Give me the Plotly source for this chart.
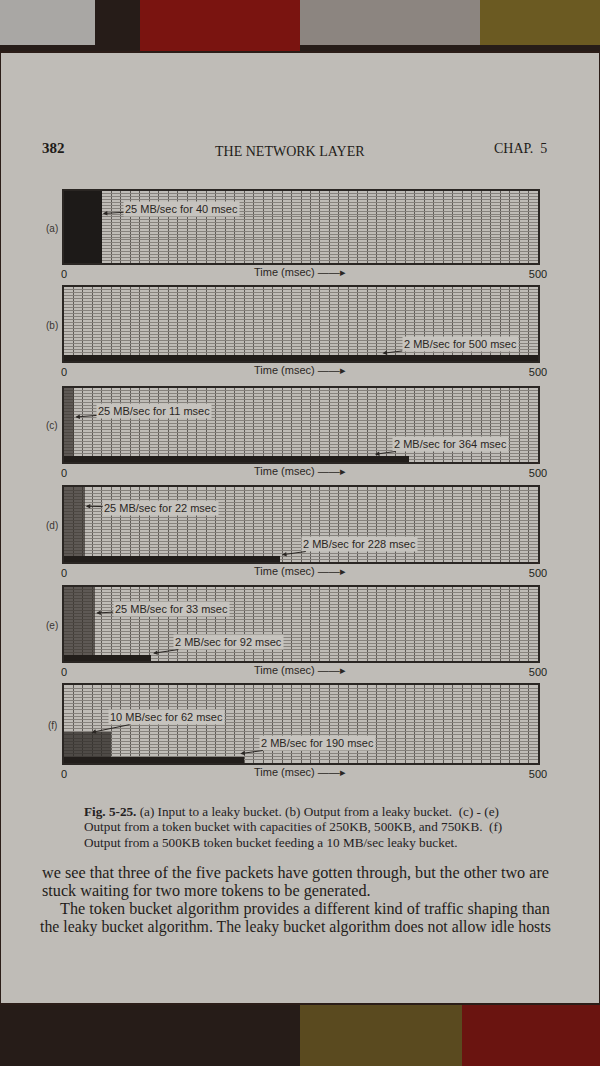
import plotly.graph_objects as go

W, H = 600, 1066

# Data read from the page (rates in MB/sec, times in msec)
panel_names = ["(a)", "(b)", "(c)", "(d)", "(e)", "(f)"]
burst_rate = [25, 0, 25, 25, 25, 10]
burst_ms = [40, 0, 11, 22, 33, 50]
steady_rate = [0, 2, 2, 2, 2, 2]
steady_ms = [0, 500, 364, 228, 92, 190]
x_ticks = [0, 500]
time_max = 500
rate_max = 25

label_texts = [
    ["25 MB/sec for 40 msec"],
    ["2 MB/sec for 500 msec"],
    ["25 MB/sec for 11 msec", "2 MB/sec for 364 msec"],
    ["25 MB/sec for 22 msec", "2 MB/sec for 228 msec"],
    ["25 MB/sec for 33 msec", "2 MB/sec for 92 msec"],
    ["10 MB/sec for 62 msec", "2 MB/sec for 190 msec"],
]

# label placement: (text x, text y, arrow tip x, arrow tip y) in panel units
label_pos = [
    [(124, 18.7, 41, 17.2)],
    [(418, 5.7, 336, 2.6)],
    [(95, 17.2, 12, 15.2), (408, 6.1, 328, 2.6)],
    [(102, 18.0, 23, 18.6), (312, 6.0, 230, 2.4)],
    [(113, 17.6, 34, 16.2), (174, 6.4, 94, 2.6)],
    [(108, 14.7, 29, 9.8), (267, 6.4, 186, 3.0)],
]

# panel boxes in pixels (top, bottom); left/right shared
panel_px = [(191, 263), (287, 361), (388, 462), (487, 562), (587, 661), (685, 763)]
left_px, right_px = 64, 538

burst_colors = ["#1d1a18", "#1d1a18", "rgba(52,47,43,0.70)", "rgba(52,47,43,0.70)",
                "rgba(52,47,43,0.70)", "rgba(48,43,40,0.78)"]
steady_color = "#221e1b"
page_color = "#bfbcb7"
label_bg = "#c6c3be"
ink = "#2a2623"


def px_x(x):
    return x / W


def px_y(y):
    return 1 - y / H


def page_text(x, y, text, font, xanchor="center"):
    return dict(x=px_x(x), y=px_y(y), xref="paper", yref="paper", text=text,
                showarrow=False, xanchor=xanchor, yanchor="middle", font=font)


fig = go.Figure()
layout_axes = {}
annotations = []

for i, name in enumerate(panel_names):
    n = "" if i == 0 else str(i + 1)
    xa, ya = "x" + n, "y" + n
    top, bot = panel_px[i]

    if burst_ms[i] > 0:
        fig.add_trace(go.Bar(x=[burst_ms[i] / 2], y=[burst_rate[i]], width=[burst_ms[i]],
                             marker=dict(color=burst_colors[i], line=dict(width=0)),
                             xaxis=xa, yaxis=ya, showlegend=False, hoverinfo="skip"))
    if steady_ms[i] > 0:
        fig.add_trace(go.Bar(x=[steady_ms[i] / 2], y=[steady_rate[i]], width=[steady_ms[i]],
                             marker=dict(color=steady_color, line=dict(width=0)),
                             xaxis=xa, yaxis=ya, showlegend=False, hoverinfo="skip"))

    grid_x = list(range(0, time_max + 1, 10))
    layout_axes["xaxis" + n] = dict(
        domain=[px_x(left_px), px_x(right_px)], anchor=ya, range=[0, time_max],
        tickvals=grid_x,
        ticktext=[str(v) if v in x_ticks else "" for v in grid_x],
        ticks="", showgrid=True, gridcolor="#5e5a56", gridwidth=1,
        showline=True, mirror=True, linecolor=ink, linewidth=1.5,
        zeroline=False, fixedrange=True, automargin=False,
        color=ink, tickfont=dict(family="Liberation Sans", size=11, color="#221f1c"),
    )
    layout_axes["yaxis" + n] = dict(
        domain=[px_y(bot), px_y(top)], anchor=xa, range=[0, rate_max],
        tickvals=list(range(0, rate_max + 1)), showticklabels=False, ticks="",
        showgrid=True, gridcolor="#86827d", gridwidth=0.8,
        showline=True, mirror=True, linecolor=ink, linewidth=1.5,
        zeroline=False, fixedrange=True, automargin=False,
    )

    # panel letter and axis title
    annotations.append(page_text(52, (top + bot) / 2 + 1, name,
                                 dict(family="Liberation Sans", size=10, color="#3a3632")))
    annotations.append(page_text(300, bot + 9, "Time (msec) \u2014\u2014\u25B8",
                                 dict(family="Liberation Sans", size=11, color=ink)))

    for txt, (tx, ty, hx, hy) in zip(label_texts[i], label_pos[i]):
        annotations.append(dict(
            x=hx, y=hy, ax=tx, ay=ty, xref=xa, yref=ya, axref=xa, ayref=ya,
            text=txt, showarrow=True, arrowhead=2, arrowsize=0.9, arrowwidth=1,
            arrowcolor=ink, bgcolor=label_bg, borderpad=1,
            font=dict(family="Liberation Sans", size=11, color=ink)))

# page header
serif = "Liberation Serif"
head_font = dict(family=serif, size=14, color="#1f1c1a")
annotations += [
    page_text(40, 148, "<b>382</b>", dict(family=serif, size=15, color="#1f1c1a"), "left"),
    page_text(290, 151, "THE NETWORK LAYER", head_font),
    page_text(549, 148, "CHAP.  5", head_font, "right"),
]

caption_lines = [
    "<b>Fig. 5-25.</b> (a) Input to a leaky bucket. (b) Output from a leaky bucket.  (c) - (e)",
    "Output from a token bucket with capacities of 250KB, 500KB, and 750KB.  (f)",
    "Output from a 500KB token bucket feeding a 10 MB/sec leaky bucket.",
]
for k, line in enumerate(caption_lines):
    annotations.append(page_text(82, 811 + 15.5 * k, line,
                                 dict(family=serif, size=13.2, color="#24211f"), "left"))

body_lines = [
    (40, 16.2, "we see that three of the five packets have gotten through, but the other two are"),
    (40, 16.2, "stuck waiting for two more tokens to be generated."),
    (58, 16.2, "The token bucket algorithm provides a different kind of traffic shaping than"),
    (38, 15.8, "the leaky bucket algorithm. The leaky bucket algorithm does not allow idle hosts"),
]
for k, (x0, size, line) in enumerate(body_lines):
    annotations.append(page_text(x0, 873 + 18 * k, line,
                                 dict(family=serif, size=size, color="#1f1c1a"), "left"))

# the photographed page and its surroundings
shapes = [
    dict(type="rect", xref="paper", yref="paper", x0=0, x1=px_x(95), y0=px_y(45), y1=1,
         fillcolor="#a9a7a4", line=dict(width=0), layer="below"),
    dict(type="rect", xref="paper", yref="paper", x0=px_x(140), x1=px_x(300), y0=px_y(52), y1=1,
         fillcolor="#7a1410", line=dict(width=0), layer="below"),
    dict(type="rect", xref="paper", yref="paper", x0=px_x(300), x1=px_x(480), y0=px_y(45), y1=1,
         fillcolor="#8c8580", line=dict(width=0), layer="below"),
    dict(type="rect", xref="paper", yref="paper", x0=px_x(480), x1=1, y0=px_y(45), y1=1,
         fillcolor="#6b5a22", line=dict(width=0), layer="below"),
    dict(type="rect", xref="paper", yref="paper", x0=px_x(300), x1=px_x(462), y0=0, y1=px_y(1003),
         fillcolor="#5a4a1f", line=dict(width=0), layer="below"),
    dict(type="rect", xref="paper", yref="paper", x0=px_x(462), x1=1, y0=0, y1=px_y(1000),
         fillcolor="#6a1410", line=dict(width=0), layer="below"),
    dict(type="rect", xref="paper", yref="paper", x0=0, x1=1, y0=px_y(1004), y1=px_y(52),
         fillcolor=page_color, line=dict(color="#2b1d18", width=2), layer="below"),
]

fig.update_layout(
    template="none",
    width=W, height=H, margin=dict(l=0, r=0, t=0, b=0, autoexpand=False),
    paper_bgcolor="#261c18", plot_bgcolor="rgba(0,0,0,0)",
    font=dict(family="Liberation Sans", color=ink),
    barmode="overlay", bargap=0, showlegend=False,
    annotations=annotations, shapes=shapes,
    **layout_axes,
)

fig.write_html("out.html", config={"displayModeBar": False},
               post_script="document.body.style.margin='0';"
                           "document.body.style.overflow='hidden';")
